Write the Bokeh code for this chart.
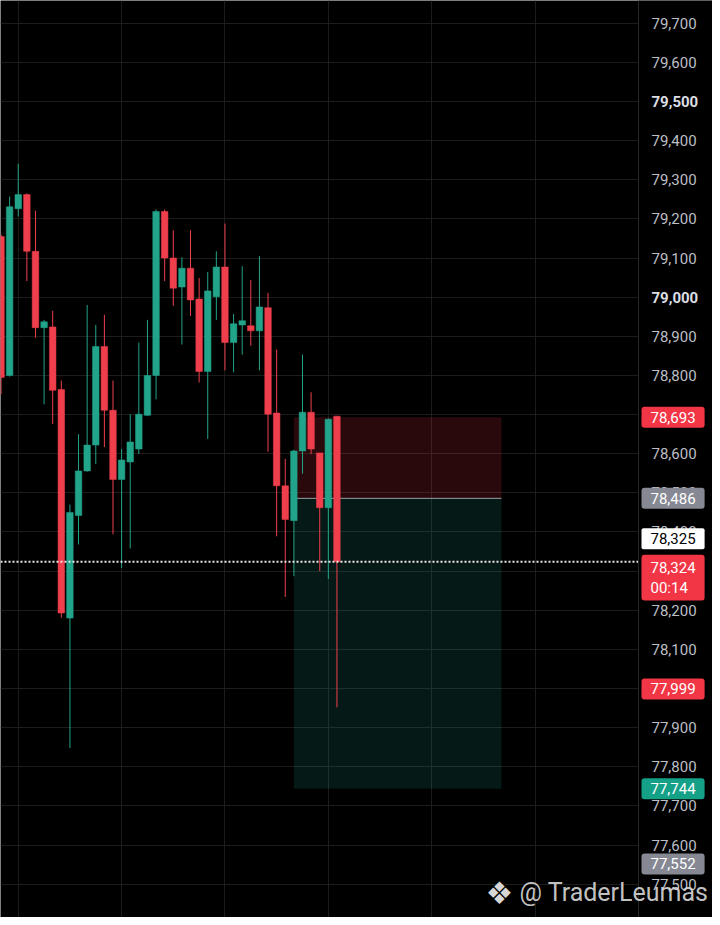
from bokeh.plotting import figure
from bokeh.models import (ColumnDataSource, FixedTicker, NumeralTickFormatter,
                          Range1d, Span, Label, BoxAnnotation)
from bokeh.embed import file_html
from bokeh.resources import INLINE

# ---------------- data ----------------
opens  = [79155, 78800, 79226, 79262, 79117, 78922, 78924, 78764, 78180, 78442,
          78556, 78622, 78874, 78711, 78534, 78579, 78612, 78698, 78800, 79219,
          79100, 79026, 79074, 78995, 78810, 79001, 79077, 78884, 78929, 78927,
          78914, 78973, 78704, 78518, 78429, 78607, 78706, 78602, 78462, 78696]
highs  = [79160, 79257, 79341, 79265, 79221, 78942, 78965, 78787, 78470, 78650,
          78980, 78929, 78955, 78787, 78612, 78701, 78884, 78942, 79224, 79224,
          79171, 79102, 79171, 79049, 79064, 79117, 79188, 78957, 79079, 79044,
          79105, 79011, 78866, 78587, 78610, 78853, 78757, 78602, 78690, 78696]
lows   = [78752, 78797, 79206, 79041, 78896, 78726, 78676, 78181, 77848, 78368,
          78554, 78574, 78617, 78394, 78308, 78358, 78599, 78696, 78739, 79041,
          78978, 78879, 78952, 78782, 78638, 78942, 78813, 78808, 78853, 78876,
          78813, 78605, 78389, 78234, 78287, 78549, 78599, 78300, 78280, 77952]
closes = [78795, 79231, 79262, 79117, 78922, 78937, 78762, 78193, 78450, 78556,
          78622, 78874, 78711, 78534, 78584, 78630, 78701, 78800, 79219, 79100,
          79023, 79074, 78993, 78810, 79016, 79077, 78884, 78932, 78940, 78914,
          78975, 78701, 78518, 78432, 78607, 78706, 78612, 78462, 78688, 78324]

price_ticks = [77400, 77500, 77600, 77700, 77800, 77900, 78000, 78100, 78200,
               78300, 78400, 78500, 78600, 78700, 78800, 78900, 79000, 79100,
               79200, 79300, 79400, 79500, 79600, 79700]
bold_ticks = [79000, 79500]
time_grid_idx = [2, 14, 26, 38, 50, 62]

# short position drawing
stop_price = 78693
entry_price = 78486
target_price = 77744
box_start_idx = 34
box_end_idx = 58.1

last_price = 78324
last_price_text = "78,324\n00:14"
bid_text = "78,325"

tag_prices = [78693, 78486, 77999, 77744, 77552]
tag_texts = ["78,693", "78,486", "77,999", "77,744", "77,552"]
tag_colors = ["#f23645", "#868993", "#f23645", "#15a088", "#868993"]

watermark = "@ TraderLeumas"

# ---------------- figure ----------------
UP = "#22a48a"
DOWN = "#ef3e4c"
BG = "#000000"
SCALE_X = 638      # pixel where the price scale begins
TAG_X = 641
PAD = (9, 5)

idx = list(range(len(opens)))
cols = [UP if c >= o else DOWN for o, c in zip(opens, closes)]
src = ColumnDataSource(dict(
    x=idx, o=opens, h=highs, l=lows, c=closes,
    top=[max(o, c) for o, c in zip(opens, closes)],
    bot=[min(o, c) for o, c in zip(opens, closes)],
    col=cols))

p = figure(frame_width=712, frame_height=917,
           x_range=Range1d(-0.06, 82.6), y_range=Range1d(77415, 79758),
           x_axis_location=None, y_axis_location="right",
           output_backend="svg", toolbar_location=None,
           background_fill_color=BG, border_fill_color=BG,
           min_border=0, outline_line_color=None)

ax = p.yaxis[0]
ax.ticker = FixedTicker(ticks=price_ticks)
ax.formatter = NumeralTickFormatter(format="0,0")
ax.major_label_overrides = {t: "" for t in bold_ticks}
ax.major_tick_line_color = None
ax.minor_tick_line_color = None
ax.major_tick_out = 0
ax.major_tick_in = 0
ax.major_label_standoff = -61
ax.axis_line_color = None
ax.major_label_text_color = "#bcbfc6"
ax.major_label_text_font = "Roboto"
ax.major_label_text_font_size = "15px"

p.ygrid.grid_line_color = "#1c1c1c"
p.xgrid.ticker = FixedTicker(ticks=time_grid_idx)
p.xgrid.grid_line_color = "#1c1c1c"

# position boxes
p.quad(left=[box_start_idx], right=[box_end_idx], bottom=[entry_price], top=[stop_price],
       fill_color="#f23645", fill_alpha=0.17, line_color=None)
p.quad(left=[box_start_idx], right=[box_end_idx], bottom=[target_price], top=[entry_price],
       fill_color="#22ab94", fill_alpha=0.15, line_color=None)
p.segment(x0=[box_start_idx], x1=[box_end_idx], y0=[entry_price], y1=[entry_price],
          line_color="#9aa0a4", line_width=1)

# candles
p.segment(x0="x", x1="x", y0="l", y1="h", line_color="col", line_width=1, source=src)
p.vbar(x="x", width=0.76, top="top", bottom="bot", fill_color="col",
       line_color="col", line_width=0.5, source=src)

# last price line
p.add_layout(Span(location=last_price, dimension="width", line_color="#eee6e6",
                  line_width=2, line_dash="2 2", level="glyph"))

# price scale background (hides grid lines behind the scale)
p.add_layout(BoxAnnotation(left=SCALE_X, left_units="screen", fill_color=BG,
                           fill_alpha=1.0, line_color=None, level="glyph"))
p.add_layout(Span(location=SCALE_X, location_units="screen", dimension="height",
                  line_color="#262626", line_width=1, level="glyph"))

# bold tick labels
for t in bold_ticks:
    p.add_layout(Label(x=651, x_units="screen", y=t, text=f"{t:,}",
                       text_baseline="middle", text_align="left",
                       text_font="Roboto", text_font_style="bold",
                       text_font_size="15px", text_color="#dcdee4"))

# price tags
for pr, tx, cl in zip(tag_prices, tag_texts, tag_colors):
    p.add_layout(Label(x=TAG_X, x_units="screen", y=pr, text=tx,
                       text_baseline="middle", text_align="left",
                       text_font="Roboto", text_font_size="15px",
                       text_color="#ffffff", background_fill_color=cl,
                       padding=PAD, border_radius=3))

p.add_layout(Label(x=TAG_X, x_units="screen", y=last_price, y_offset=23, text=bid_text,
                   text_baseline="middle", text_align="left",
                   text_font="Roboto", text_font_size="15px",
                   text_color="#000000", background_fill_color="#ffffff",
                   padding=PAD, border_radius=2))
p.add_layout(Label(x=TAG_X, x_units="screen", y=last_price, y_offset=7, text=last_price_text,
                   text_baseline="top", text_align="left",
                   text_font="Roboto", text_font_size="15px", text_line_height=1.1,
                   text_color="#ffffff", background_fill_color="#f23645",
                   padding=(9, 4), border_radius=3))

# watermark
p.add_layout(Label(x=499, x_units="screen", y=25, y_units="screen", text="\u2756",
                   text_baseline="middle", text_align="center",
                   text_font="DejaVu Sans", text_font_size="31px",
                   text_color="#d6d6d6"))
p.add_layout(Label(x=519, x_units="screen", y=25, y_units="screen", text=watermark,
                   text_baseline="middle", text_align="left",
                   text_font="Roboto", text_font_size="25px",
                   text_color="#d6d6d6", text_alpha=0.92))

open("out.html", "w").write(file_html(p, INLINE))
